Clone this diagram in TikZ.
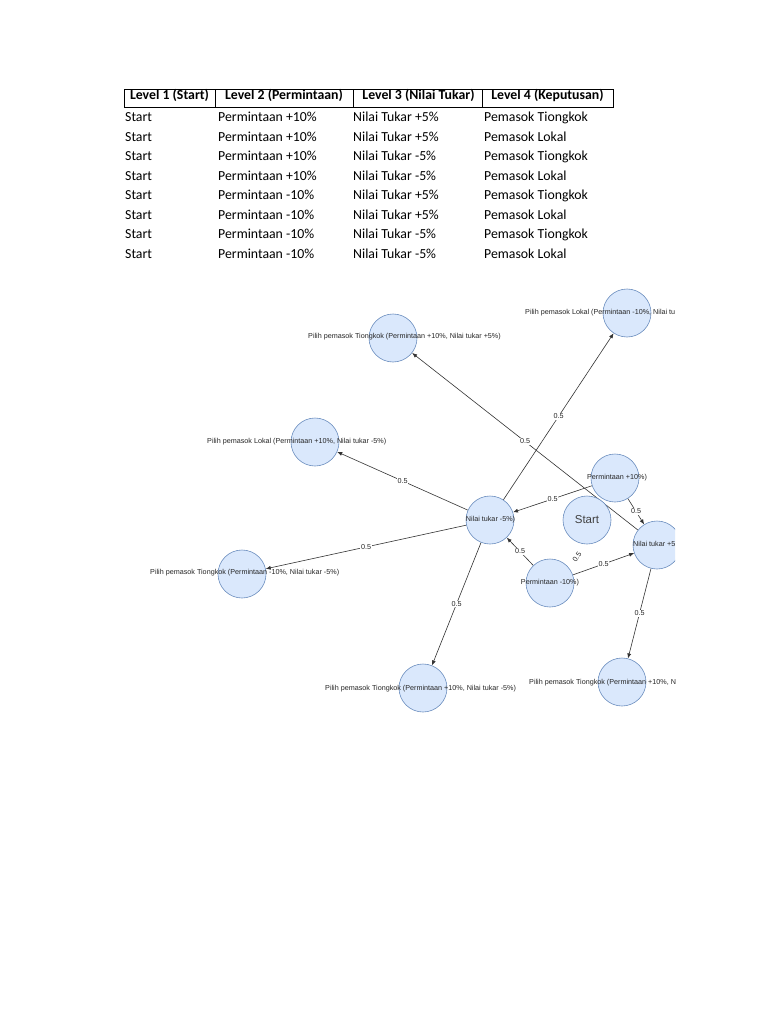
\documentclass[tikz,border=0pt]{standalone}
\usepackage{fontspec}
\setmainfont{Carlito}
\newfontfamily\arialf{Liberation Sans}
\usetikzlibrary{arrows.meta}
\pgfdeclarelayer{bg}
\pgfsetlayers{bg,main}
\definecolor{nodefill}{HTML}{DAE8FC}
\definecolor{nodeline}{HTML}{6C8EBF}
\begin{document}
\begin{tikzpicture}[x=1pt,y=-1pt,
  hdrbox/.style={draw=black, line width=0.9pt, minimum height=18pt, inner sep=0pt},
  hdr/.style={font=\fontsize{13.8}{16}\selectfont\bfseries, anchor=base, inner sep=0pt},
  tcell/.style={font=\fontsize{13.8}{16}\selectfont, anchor=base west, inner sep=0pt},
  circnode/.style={circle, draw=nodeline, fill=nodefill, minimum size=48pt, inner sep=0pt, line width=0.6pt},
  lbl/.style={font=\arialf\fontsize{7.2}{8.6}\selectfont, inner sep=0pt, text=black!85},
  conn/.style={draw=black!80, line width=0.6pt, -{Latex[length=5pt,width=4pt]}},
  el/.style={font=\arialf\fontsize{7.2}{8.6}\selectfont, fill=white, inner sep=0.6pt, midway, text=black!85}
]
\begin{pgfonlayer}{bg}
\fill[white] (0,0) rectangle (768,1024);
\end{pgfonlayer}
\useasboundingbox (0,0) rectangle (768,1024);

% ---- table header ----
\node[hdrbox, minimum width=91pt]  (h1b) at (169.5,98) {};
\node[hdrbox, minimum width=138pt] (h2b) at (284,98) {};
\node[hdrbox, minimum width=129pt] (h3b) at (417.5,98) {};
\node[hdrbox, minimum width=131pt] (h4b) at (547.5,98) {};
\node[hdr] (h1) at (169.5,100) {Level 1 (Start)};
\node[hdr] (h2) at (284,100) {Level 2 (Permintaan)};
\node[hdr] (h3) at (418.5,100) {Level 3 (Nilai Tukar)};
\node[hdr] (h4) at (547.5,100) {Level 4 (Keputusan)};

% ---- table rows ----
\foreach \i/\p/\n/\d in {0/+10/+5/Tiongkok, 1/+10/+5/Lokal, 2/+10/-5/Tiongkok, 3/+10/-5/Lokal,
                         4/-10/+5/Tiongkok, 5/-10/+5/Lokal, 6/-10/-5/Tiongkok, 7/-10/-5/Lokal}{
  \pgfmathsetmacro{\yy}{121.7+19.53*\i}
  \node[tcell] (ra\i) at (125,\yy) {Start};
  \node[tcell] (rb\i) at (218,\yy) {Permintaan \p\%};
  \node[tcell] (rc\i) at (353,\yy) {Nilai Tukar \n\%};
  \node[tcell] (rd\i) at (484,\yy) {Pemasok \d};
}

% ---- graph nodes ----
\begin{scope}
\clip (100,280) rectangle (675,740);
\node[circnode] (lokA) at (627,313) {};
\node[circnode] (tiA) at (393,338) {};
\node[circnode] (lokB) at (315,442) {};
\node[circnode] (ntm) at (490,520) {};
\node[circnode] (tiB) at (242,574) {};
\node[circnode] (tiC) at (423,688) {};
\node[circnode] (pp) at (615,478) {};
\node[circnode, font=\arialf\fontsize{11.5}{13}\selectfont, text=black!75] (start) at (587,520) {Start};
\node[circnode] (ntp) at (657,545) {};
\node[circnode] (pm) at (550,583) {};
\node[circnode] (tiD) at (622,682) {};

\node[lbl, anchor=west] (tiAt) at (308,337) {Pilih pemasok Tiongkok (Permintaan +10\%, Nilai tukar +5\%)};
\node[lbl, anchor=west] (lokAt) at (525,313) {Pilih pemasok Lokal (Permintaan -10\%, Nilai tu};
\node[lbl, anchor=west] (lokBt) at (207,442) {Pilih pemasok Lokal (Permintaan +10\%, Nilai tukar -5\%)};
\node[lbl, anchor=west] (tiBt) at (150,573) {Pilih pemasok Tiongkok (Permintaan -10\%, Nilai tukar -5\%)};
\node[lbl, anchor=west] (tiCt) at (325,689) {Pilih pemasok Tiongkok (Permintaan +10\%, Nilai tukar -5\%)};
\node[lbl, anchor=west] (tiDt) at (529,683) {Pilih pemasok Tiongkok (Permintaan +10\%, N};
\node[lbl] (ntmt) at (490.5,520) {Nilai tukar -5\%)};
\node[lbl, anchor=west] (ntpt) at (633,544) {Nilai tukar +5};
\node[lbl] (ppt) at (617,478) {Permintaan +10\%)};
\node[lbl] (pmt) at (550,583) {Permintaan -10\%)};
\node[lbl, rotate=55] (fl) at (577,557) {0.5};
\end{scope}

% ---- graph edges ----
\begin{pgfonlayer}{bg}
\draw[conn] (ntm) -- node[el]{0.5} (lokA);
\draw[conn] (ntp) -- node[el]{0.5} (tiA);
\draw[conn] (ntm) -- node[el]{0.5} (lokB);
\draw[conn] (ntm) -- node[el]{0.5} (tiB);
\draw[conn] (ntm) -- node[el]{0.5} (tiC);
\draw[conn] (pp) -- node[el]{0.5} (ntm);
\draw[conn] (pp) -- node[el]{0.5} (ntp);
\draw[conn] (pm) -- node[el]{0.5} (ntm);
\draw[conn] (pm) -- node[el]{0.5} (ntp);
\draw[conn] (ntp) -- node[el]{0.5} (tiD);
\end{pgfonlayer}
\end{tikzpicture}
\end{document}
